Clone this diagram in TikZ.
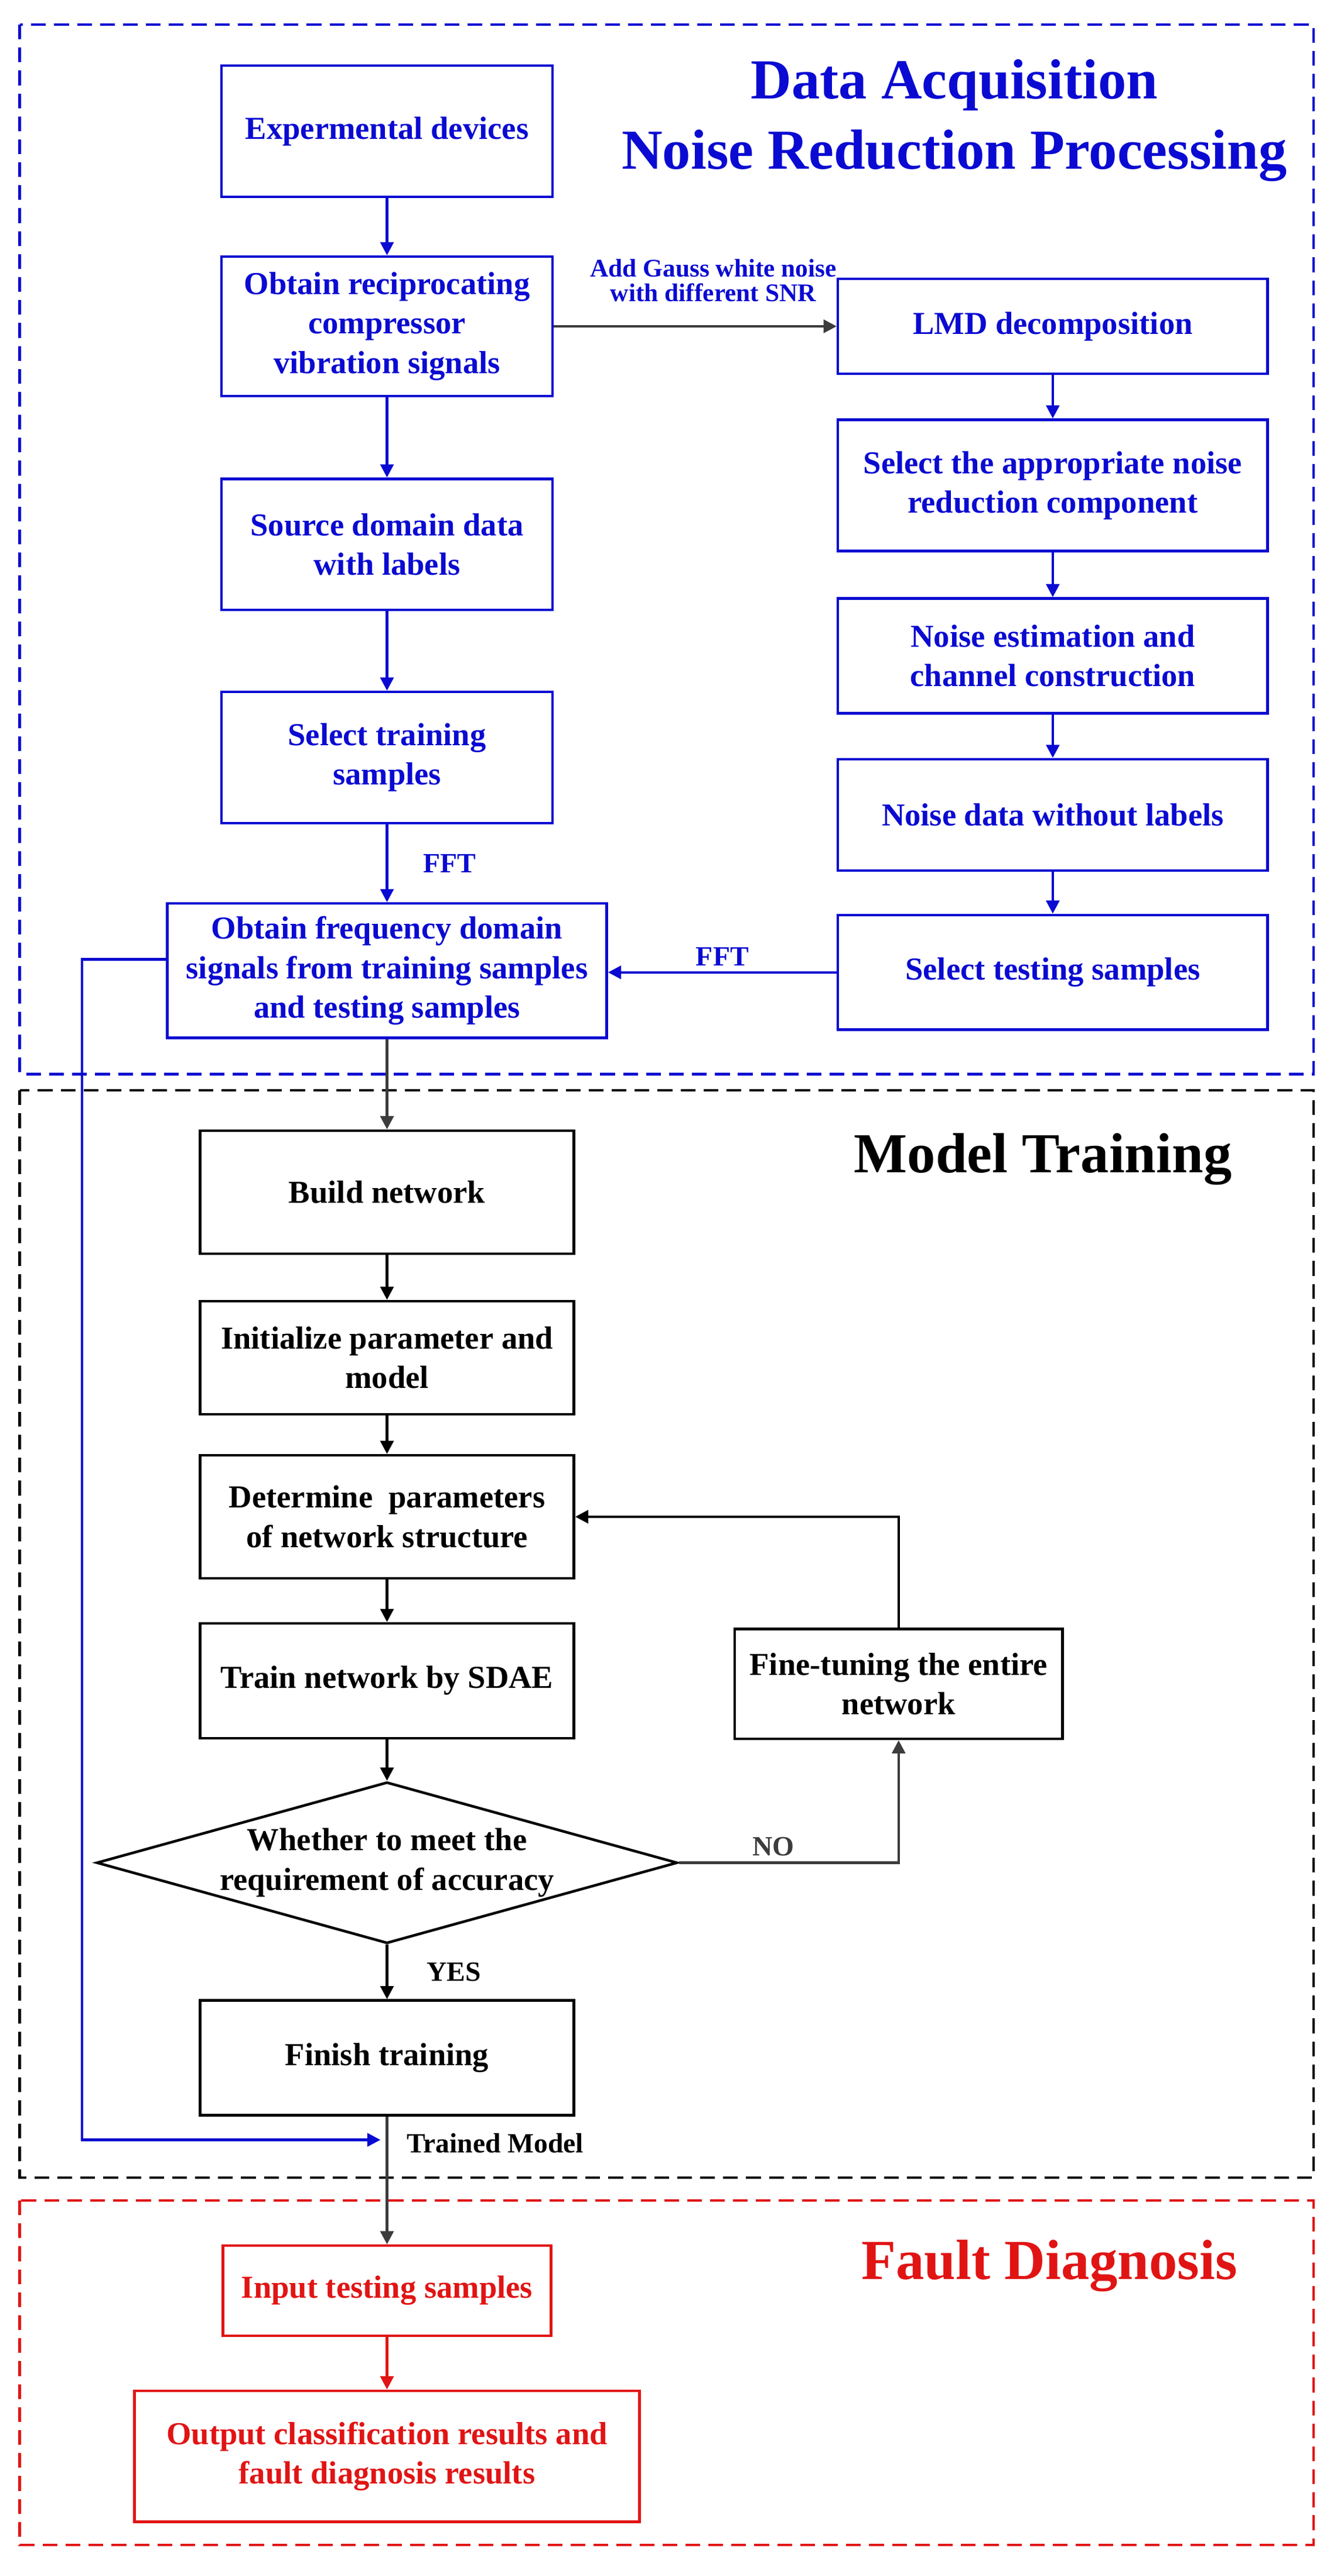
\documentclass[tikz,border=0pt]{standalone}
\usepackage{fontspec}
\setmainfont{Liberation Serif}
\usetikzlibrary{arrows.meta,shapes.geometric}
\definecolor{myblue}{RGB}{10,10,210}
\definecolor{myred}{RGB}{225,20,20}
\definecolor{mygray}{RGB}{60,60,60}
\begin{document}
\begin{tikzpicture}[x=1pt,y=-1pt,
  box/.style={draw,line width=1.6pt,minimum width=#1,align=center,font=\fontsize{19.5}{24}\selectfont\bfseries,inner sep=1pt},
  bb/.style={box=#1,myblue,text=myblue},
  kb/.style={box=#1,black},
  rb/.style={box=#1,myred,text=myred},
  ar/.style={line width=1.6pt,-{Triangle[length=8pt,width=8pt]}},
  lab/.style={font=\fontsize{17}{20}\selectfont\bfseries},
  ttl/.style={font=\fontsize{34.5}{38}\selectfont\bfseries},
  frame/.style={dashed,line width=1.6pt,dash pattern=on 9pt off 5pt}]
\useasboundingbox (0,0) rectangle (815,1571);
\draw[frame,myblue] (12,15) rectangle (801,655);
\draw[frame,black] (12,665) rectangle (801,1328);
\draw[frame,myred] (12,1342) rectangle (801,1552);
\node[myblue,ttl] at (582,52) {Data Acquisition};
\node[myblue,ttl] at (582,95) {Noise Reduction Processing};
\node[ttl] at (636,707) {Model Training};
\node[myred,ttl] at (640,1382) {Fault Diagnosis};

\node[bb=202pt,minimum height=80pt] (a) at (236,80) {Expermental devices};
\node[bb=202pt,minimum height=85pt] (b) at (236,199) {Obtain reciprocating\\compressor\\vibration signals};
\node[bb=202pt,minimum height=80pt] (c) at (236,332) {Source domain data\\with labels};
\node[bb=202pt,minimum height=80pt] (d) at (236,462) {Select training\\samples};
\node[bb=268pt,minimum height=82pt] (e) at (236,592) {Obtain frequency domain\\signals from training samples\\and testing samples};
\node[bb=262pt,minimum height=58pt] (f) at (642,199) {LMD decomposition};
\node[bb=262pt,minimum height=80pt] (g) at (642,296) {Select the appropriate noise\\reduction component};
\node[bb=262pt,minimum height=70pt] (h) at (642,400) {Noise estimation and\\channel construction};
\node[bb=262pt,minimum height=68pt] (i) at (642,497) {Noise data without labels};
\node[bb=262pt,minimum height=70pt] (j) at (642,593) {Select testing samples};

\node[kb=228pt,minimum height=75pt] (k) at (236,727) {Build network};
\node[kb=228pt,minimum height=69pt] (l) at (236,828) {Initialize parameter and\\model};
\node[kb=228pt,minimum height=75pt] (m) at (236,925) {Determine\ \ parameters\\of network structure};
\node[kb=228pt,minimum height=70pt] (n) at (236,1025) {Train network by SDAE};
\node[kb=200pt,minimum height=67pt] (o) at (548,1027) {Fine-tuning the entire\\network};
\node[draw,line width=1.6pt,diamond,aspect=3.6,inner sep=0pt,minimum width=336pt,minimum height=93pt,align=center,font=\fontsize{19.5}{24}\selectfont\bfseries] (p) at (236,1136) {Whether to meet the\\requirement of accuracy};
\node[kb=228pt,minimum height=70pt] (q) at (236,1255) {Finish training};

\node[rb=200pt,minimum height=55pt] (r) at (236,1397) {Input testing samples};
\node[rb=308pt,minimum height=80pt] (s) at (236,1498) {Output classification results and\\fault diagnosis results};

\draw[ar,myblue] (a) -- (b);
\draw[ar,myblue] (b) -- (c);
\draw[ar,myblue] (c) -- (d);
\draw[ar,myblue] (d) -- node[lab,right,xshift=18pt] {FFT} (e);
\draw[ar,myblue] (f) -- (g);
\draw[ar,myblue] (g) -- (h);
\draw[ar,myblue] (h) -- (i);
\draw[ar,myblue] (i) -- (j);
\draw[ar,mygray] (b.east) -- (f.west);
\node[myblue,font=\fontsize{15.5}{15}\selectfont\bfseries,align=center] at (435,171) {Add Gauss white noise\\with different SNR};
\draw[ar,myblue] (j.west) -- node[lab,above] {FFT} (e.east |- j.west);
\coordinate (c1) at (50,585);
\coordinate (c2) at (50,1305);
\coordinate (c3) at (232,1305);
\draw[ar,myblue] (e.west |- c1) -- (c1) -- (c2) -- (c3);
\draw[ar,mygray] (e) -- (k);
\draw[ar] (k) -- (l);
\draw[ar] (l) -- (m);
\draw[ar] (m) -- (n);
\draw[ar] (n) -- (p);
\draw[ar] (p) -- node[lab,right,xshift=20pt] {YES} (q);
\draw[ar,mygray] (p.east) -- node[lab,above,pos=0.43] {NO} (o.south |- p.east) -- (o.south);
\coordinate (t) at (548,925);
\draw[ar] (o.north) -- (t) -- (m.east);
\draw[ar,mygray] (q) -- (r);
\node[lab] at (302,1307) {Trained Model};
\draw[ar,myred] (r) -- (s);
\end{tikzpicture}
\end{document}
